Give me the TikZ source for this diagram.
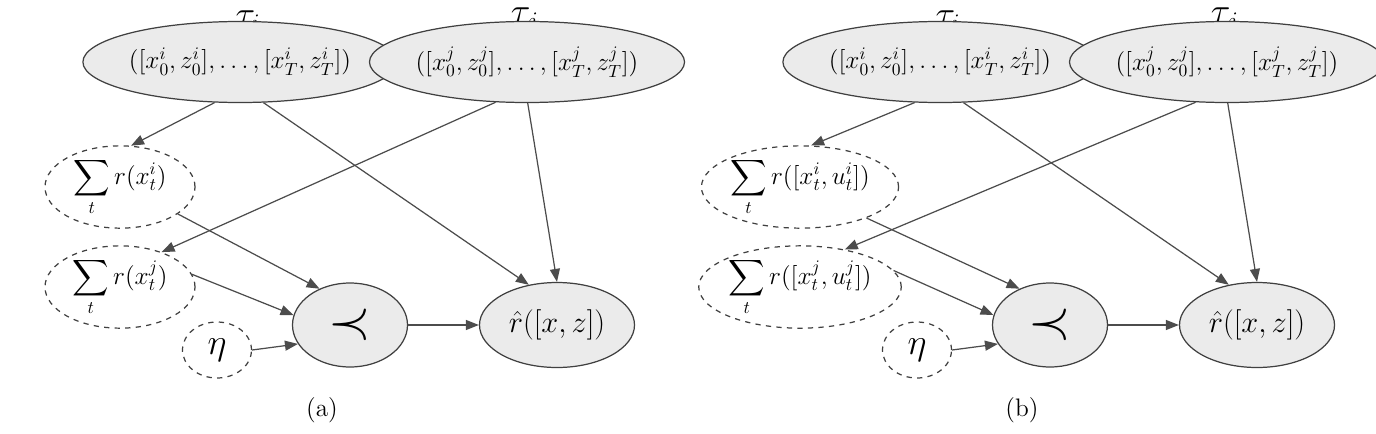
\documentclass[tikz,border=0pt]{standalone}
\usepackage{amsmath,amssymb}
\usetikzlibrary{shapes.geometric,arrows.meta}
\tikzset{
 solidell/.style={ellipse,draw=black!75,fill=black!8,line width=0.7pt,inner sep=0pt},
 dashell/.style={ellipse,draw=black!75,dashed,line width=0.7pt,inner sep=0pt},
 conn/.style={draw=black!70,line width=0.7pt,-{Triangle[length=2.6mm,width=2mm]}},
}
\newcommand{\mkpanel}[6]{%
 \begin{scope}[xshift=#2]
 \node[font=\huge] (#1ti) at (4.96,-0.42) {$\tau_i$};
 \node[font=\huge] (#1tj) at (10.5,-0.42) {$\tau_j$};
 \node[solidell,minimum width=5.5cm,minimum height=1.62cm,font=\Large] (#1ei) at (4.8,-1.24) {$([x^i_0,z^i_0],\ldots,[x^i_T,z^i_T])$};
 \node[solidell,minimum width=5.25cm,minimum height=1.62cm,font=\Large] (#1ej) at (10.54,-1.24) {$([x^j_0,z^j_0],\ldots,[x^j_T,z^j_T])$};
 \node[dashell,minimum width=#5,minimum height=1.42cm,font=\Large] (#1s1) at (#4,-3.74) {$\displaystyle\sum_t #3{i}$};
 \node[dashell,minimum width=#5,minimum height=1.44cm,font=\Large] (#1s2) at (#4,-5.74) {$\displaystyle\sum_t #3{j}$};
 \node[dashell,minimum width=1.38cm,minimum height=1.12cm,font=\huge] (#1eta) at (4.34,-7.0) {$\eta$};
 \node[solidell,minimum width=2.3cm,minimum height=1.68cm,font=\huge] (#1pr) at (7.0,-6.5) {\scalebox{1.5}{$\prec$}};
 \node[solidell,minimum width=3.1cm,minimum height=1.7cm,font=\LARGE] (#1rh) at (11.14,-6.5) {$\hat r([x,z])$};
 \node[font=\Large] (#1cap) at (6.44,-8.2) {#6};
 \draw[conn] (#1ei.238) -- (#1s1.75);
 \draw[conn] (#1ei.-60) -- (#1rh.125);
 \draw[conn] (#1ej.-128) -- (#1s2.40);
 \draw[conn] (#1ej.-89) -- (#1rh.90);
 \draw[conn] (#1s1.-25) -- (#1pr.130);
 \draw[conn] (#1s2.10) -- (#1pr.170);
 \draw[conn] (#1eta.0) -- (#1pr.200);
 \draw[conn] (#1pr) -- (#1rh);
 \end{scope}}
\newcommand{\ra}[1]{r(x^{#1}_t)}
\newcommand{\rb}[1]{r([x^{#1}_t,u^{#1}_t])}
\begin{document}
\begin{tikzpicture}
\useasboundingbox (0,0) rectangle (27.52,-8.66);
\mkpanel{pa}{0cm}{\ra}{2.4}{3.0cm}{(a)}
\mkpanel{pb}{14cm}{\rb}{2.0}{3.8cm}{(b)}
\end{tikzpicture}
\end{document}
